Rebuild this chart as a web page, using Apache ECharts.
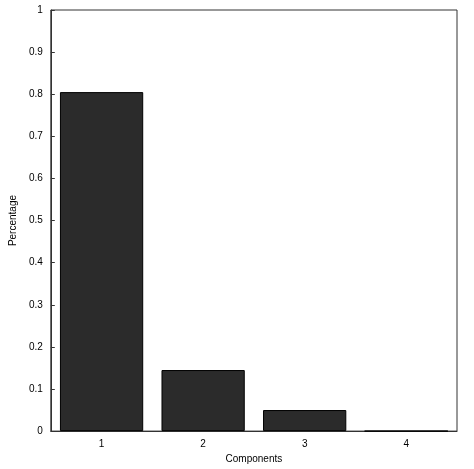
<!DOCTYPE html><html><head><meta charset="utf-8"><script src="https://cdn.jsdelivr.net/npm/echarts@6/dist/echarts.min.js"></script>
<style>html,body{margin:0;padding:0;background:#fff}#c{width:474px;height:469px}</style></head><body><div id="c"></div><script>
const categories=['1','2','3','4'];
const values=[0.805,0.145,0.05,0];
const yTicks=[0,0.1,0.2,0.3,0.4,0.5,0.6,0.7,0.8,0.9,1];
const chart=echarts.init(document.getElementById('c'));
const lab={color:'#000',fontSize:10,fontFamily:'Liberation Sans'};
chart.setOption({animation:false,
grid:{left:33,right:17,top:10,bottom:36,show:true,borderColor:'#333',borderWidth:1},
xAxis:{type:'category',data:categories,name:'Components',nameLocation:'middle',nameGap:20,nameTextStyle:lab,
 axisLine:{lineStyle:{color:'#333'}},axisTick:{inside:true,alignWithLabel:true,length:4,lineStyle:{color:'#333'}},axisLabel:lab,splitLine:{show:false}},
yAxis:{type:'value',min:0,max:1,interval:0.1,name:'Percentage',nameLocation:'middle',nameGap:22,nameTextStyle:lab,
 axisLine:{show:true,lineStyle:{color:'#333'}},axisTick:{show:true,inside:true,length:4,lineStyle:{color:'#333'}},
 axisLabel:Object.assign({formatter:v=>yTicks.includes(+v.toFixed(1))?String(+v.toFixed(1)):''},lab),splitLine:{show:false}},
series:[{type:'bar',data:values,barWidth:'82%',itemStyle:{color:'#2b2b2b',borderColor:'#000',borderWidth:1}}]});
</script></body></html>
